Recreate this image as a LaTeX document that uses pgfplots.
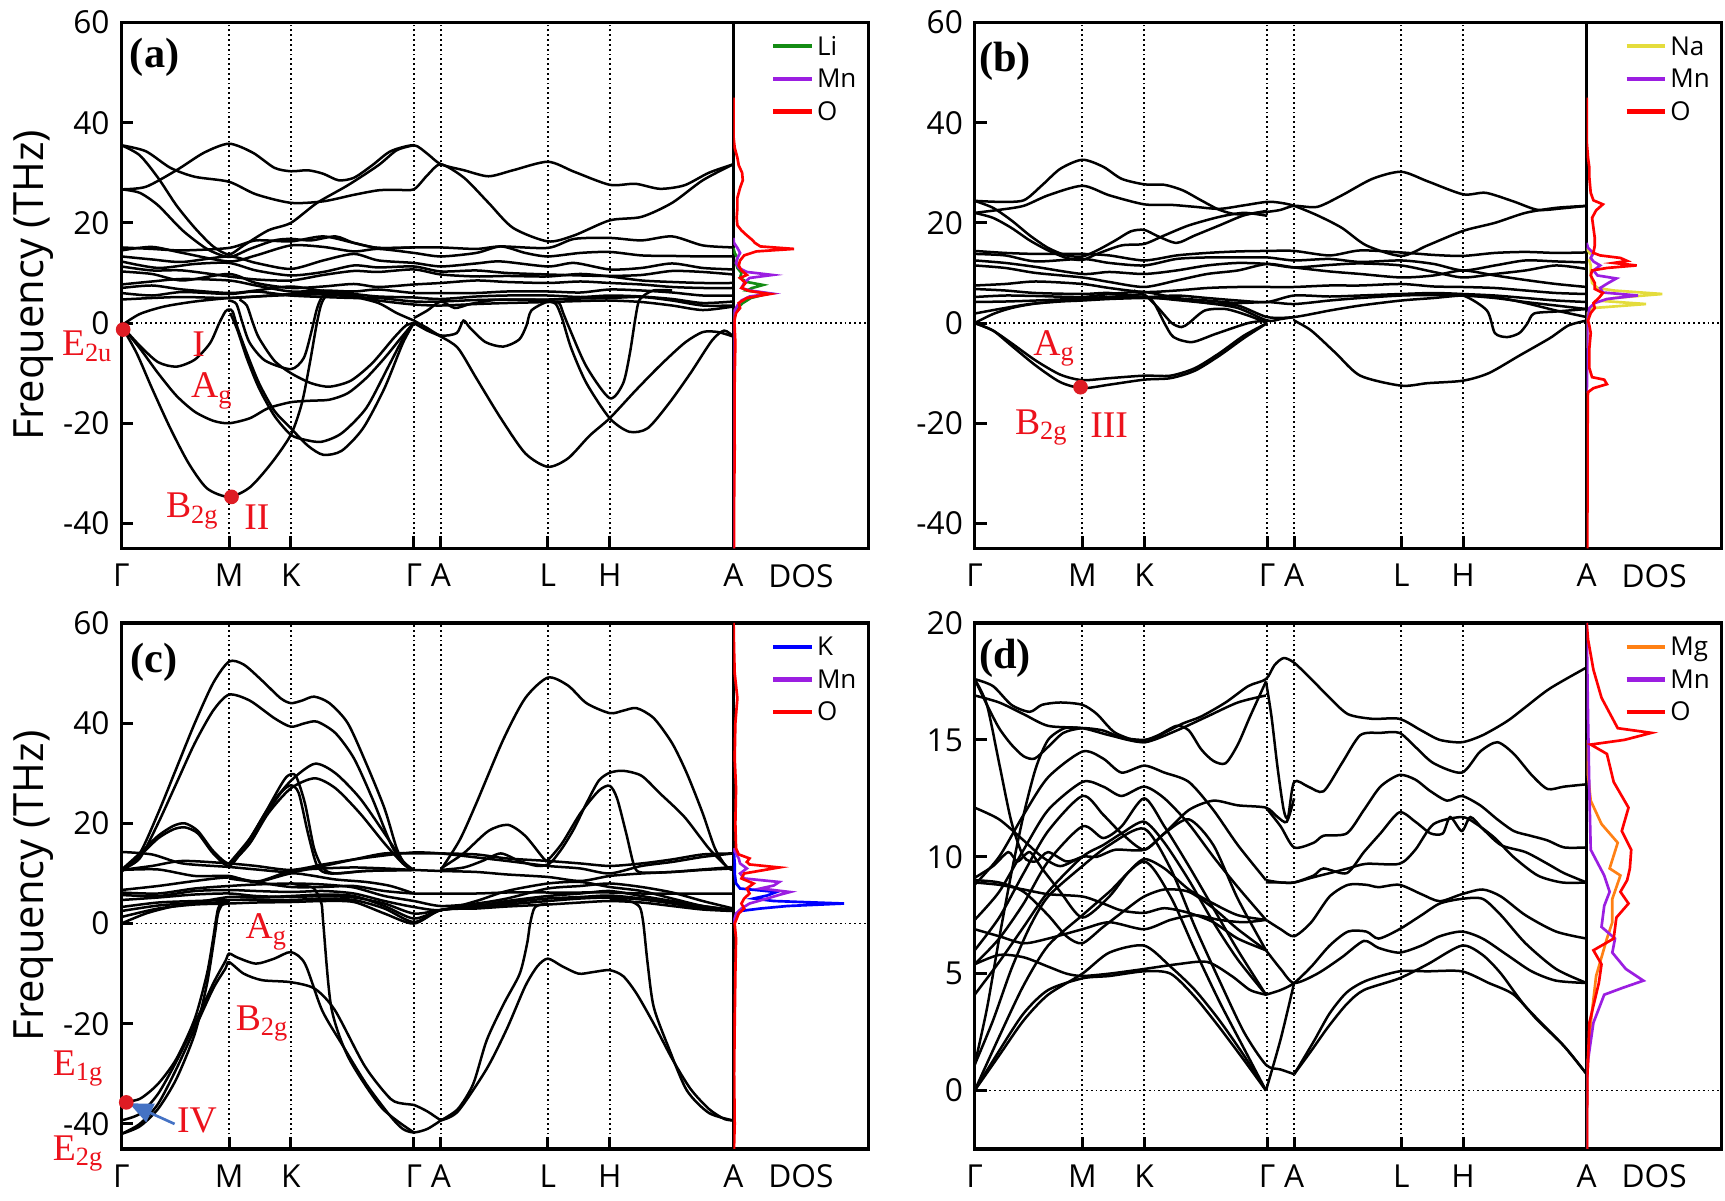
\documentclass[border=0pt]{standalone}
\usepackage{pgfplots}
\pgfplotsset{compat=1.18}
\usepackage{fontspec}
\setmainfont{Open Sans}
\newfontfamily\tnr{Liberation Serif}
\usetikzlibrary{arrows.meta}

\definecolor{liG}{RGB}{20,140,20}
\definecolor{mnP}{RGB}{155,30,225}
\definecolor{oR}{RGB}{255,0,0}
\definecolor{naY}{RGB}{228,220,60}
\definecolor{kB}{RGB}{0,0,255}
\definecolor{mgO}{RGB}{255,128,20}
\definecolor{labR}{RGB}{236,18,28}
\definecolor{dotR}{RGB}{222,28,36}
\definecolor{arrB}{RGB}{68,114,196}

\newcommand{\ml}{\tnr\fontsize{11.3}{13}\selectfont}
\newcommand{\pl}{\tnr\bfseries\fontsize{12.7}{14}\selectfont}

\tikzset{zl/.style={black, line width=0.55pt, dash pattern=on 0.55pt off 0.9pt}}

\pgfplotsset{
  bandax/.style={
    scale only axis, width=183.6pt, height=157.8pt,
    xmin=0, xmax=100, clip=false,
    xtick={0,17.6,27.7,47.8,52.2,69.7,79.8,100},
    xticklabels={Γ,M,K,Γ,A,L,H,A},
    tick align=inside, xtick pos=bottom, ytick pos=left,
    major tick length=3.6pt,
    every tick/.style={black, line width=0.9pt},
    xmajorgrids,
    major grid style={black, line width=0.55pt, dash pattern=on 0.55pt off 0.9pt},
    axis line style={line width=1pt},
    tick label style={font=\fontsize{9.5}{10}\selectfont},
    xticklabel style={yshift=-1.2pt},
  },
  dosax/.style={
    scale only axis, width=40.5pt, height=157.8pt,
    xmin=0, xmax=1, xtick=\empty, ytick=\empty,
    axis line style={line width=1pt},
    xlabel={DOS},
    xlabel style={at={(axis description cs:0.5,0)}, anchor=north, yshift=-1.2pt,
      font=\fontsize{9.5}{10}\selectfont},
    legend cell align=left,
    legend style={at={(axis description cs:0.2,0.995)}, anchor=north west,
      draw=none, fill=none, font=\fontsize{7.8}{9}\selectfont, row sep=1.5pt,
      nodes={inner sep=1pt, text height=5.8pt, text depth=0.5pt}},
    legend image code/.code={\draw[#1, line width=1.3pt] (0pt,0pt) -- (11.5pt,0pt);},
  },
  freqlabel/.style={ylabel={Frequency (THz)},
    ylabel style={at={(axis description cs:-0.144,0.5)}, anchor=center, inner sep=0pt,
      font=\fontsize{12.5}{13}\selectfont}},
  bd/.style={black, line width=0.75pt, smooth, tension=0.45, no markers},
  ds/.style={line width=0.8pt, no markers},
}

\begin{document}
\begin{tikzpicture}
\path[use as bounding box] (0,0) rectangle (517.5pt,-360.3pt);

% ===================== (a) LiMnO2 =====================
\begin{axis}[bandax, freqlabel, at={(36.4pt,-6.75pt)}, anchor=north west,
  ymin=-45, ymax=60, ytick={-40,-20,0,20,40,60}, yticklabels={-40,-20,0,20,40,60}]
\draw[zl] (axis cs:0,0) -- (axis cs:100,0);
% upper optical branches
\addplot[bd] coordinates {(0,26.7)(4,27.2)(9,30.5)(13.5,34)(17.6,35.8)(21.5,34)(25,31)(27.7,30.3)(30.5,30.5)(33,29.8)(35.5,28.5)(38,29)(41,31.5)(44,34.3)(47.8,35.5)(50,33.8)(52.2,31.7)(56,30.5)(60,29.3)(64,30.5)(69.7,32.2)(74,30.2)(79.8,27.6)(84,27.8)(88,26.8)(92,27.5)(96,30)(100,31.7)};
\addplot[bd] coordinates {(0,35.5)(4,34.3)(8,31)(12,29.2)(17.6,28.2)(22,25.7)(27.7,24)(33,24.3)(38,25.6)(42,26.5)(45,26.6)(47.8,26.7)(50,29.5)(52.2,31.7)(56,29)(60,24)(64,19)(69.7,16.3)(74,17.5)(79.8,20.5)(85,21.2)(90,24)(95,28.5)(100,31.7)};
\addplot[bd] coordinates {(0,35.5)(3,33.5)(6,29)(9,23.5)(12,19)(15,15.3)(17.6,13.7)(20,15.5)(24,18.5)(27.7,20)(32,24)(37,27.5)(42,31.5)(45,34.5)(47.8,35.5)};
\addplot[bd] coordinates {(0,26.7)(3,26)(6,23.5)(10,18.5)(14,14.8)(17.6,13.2)(21,14.8)(25,16.5)(27.7,16.8)(31,16.5)(35,17.3)(38,16)(42,15)(47.8,15.1)};
% middle manifold
\addplot[bd] coordinates {(0,15.1)(5,14.8)(10,14.5)(17.6,15)(22,16.5)(27.7,16.3)(33,17.3)(38,16)(42,15)(47.8,15.1)(52.2,15.1)(58,14.8)(62,15.3)(69.7,15)(74,16.8)(79.8,17)(85,16.5)(90,17.3)(95,15.5)(100,15.1)};
\addplot[bd] coordinates {(0,14.5)(5,15.2)(10,14)(17.6,12.3)(22,13.5)(27.7,15.5)(33,15.2)(38,14.3)(42,14.8)(47.8,14)(52.2,13.3)(58,14)(62,15.3)(66,14)(69.7,13.3)(75,14)(79.8,14.2)(85,13.5)(90,13.4)(95,13.3)(100,13.3)};
\addplot[bd] coordinates {(0,13.3)(5,12.7)(10,12.2)(17.6,13.3)(22,12)(27.7,10.8)(33,12.5)(38,13.8)(42,12.5)(47.8,12)(52.2,11.3)(58,11.9)(62,12.3)(69.7,11.3)(74,12)(79.8,10.7)(85,11)(90,11.9)(95,11)(100,10.7)};
\addplot[bd] coordinates {(0,12.3)(6,11)(12,11.8)(17.6,12)(22,10.5)(27.7,9.5)(33,10.2)(38,11.5)(42,11.1)(47.8,11.3)(52.2,10.3)(58,10.5)(63,10)(69.7,9.7)(75,9.5)(79.8,9.4)(85,9.6)(90,10.4)(95,10.2)(100,9.7)};
\addplot[bd] coordinates {(0,11.3)(5,10.5)(10,10.5)(17.6,9.3)(22,8.7)(27.7,8.5)(33,9.6)(38,10.4)(42,10.2)(47.8,10.7)(52.2,9.7)(58,9.3)(63,9.4)(69.7,9.3)(75,9.8)(79.8,9.3)(85,8.5)(90,8.2)(95,8)(100,8)};
\addplot[bd] coordinates {(0,10.3)(5,9.8)(10,8.5)(17.6,9.8)(22,8)(27.7,7)(33,7.3)(38,7.8)(42,7.2)(47.8,7.7)(52.2,8)(58,8.5)(63,8.2)(69.7,8)(75,8.3)(79.8,8)(85,7.7)(90,7.2)(95,7)(100,7)};
\addplot[bd] coordinates {(0,7.7)(5,8.3)(10,8.8)(17.6,8.5)(22,7.5)(27.7,6.3)(33,6.5)(38,6.3)(42,6.7)(47.8,6)(52.2,6)(58,6)(63,6.3)(69.7,6.3)(75,6.1)(79.8,6.7)(85,6.5)(90,6.1)(95,5.5)(100,5.5)};
\addplot[bd] coordinates {(0,7)(5,7.5)(10,6.7)(17.6,6)(22,6.5)(27.7,7.3)(33,6.4)(38,5.8)(42,5.3)(47.8,5.1)(52.2,4.8)(58,5.3)(63,5.5)(69.7,5.5)(75,5.2)(79.8,5.5)(85,5.3)(90,4.8)(95,4)(100,4.3)};
\addplot[bd] coordinates {(0,6)(5,5.5)(10,6.2)(17.6,5.8)(22,6.3)(27.7,5.5)(33,5.2)(38,5)(42,5)(47.8,4.3)(52.2,4.3)(58,4.6)(63,4.7)(69.7,4.7)(75,4.9)(79.8,5)(85,5.2)(90,4.5)(95,3.5)(100,3.5)};
\addplot[bd] coordinates {(0,4.7)(5,5)(10,5.2)(17.6,5)(22,5.3)(27.7,5.8)(33,6)(38,5.5)(42,4.5)(47.8,3.7)(52.2,3.5)(58,3.8)(63,4)(69.7,4.2)(75,4.4)(79.8,4.5)(85,4.2)(90,3.5)(95,2.6)(100,3.3)};
\addplot[bd] coordinates {(0,-0.5)(3,1.8)(7,3.3)(12,4.3)(17.6,5)(22,5.3)(27.7,5.6)(33,5.7)(38,5.2)(42,4)(45,2)(47.8,0.5)};
% soft modes
\addplot[bd] coordinates {(0,-0.5)(3,-4.5)(6,-7.8)(9,-8.7)(12,-7.3)(14.5,-4)(16,0)(17,2.3)(17.6,2.7)(18.2,2.3)(19,-1)(20.5,-6)(22.5,-12)(25,-17.5)(27.7,-21)(30.5,-24.5)(33,-26.3)(36,-25.5)(39.5,-21)(43,-13)(46,-4)(47.8,0)};
\addplot[bd] coordinates {(17.8,2)(19,-1.5)(20.5,-7)(22.5,-13)(25,-18.5)(27.7,-22.3)(30,-23.3)(32.7,-23.7)(36,-22)(40,-17)(43.5,-9)(46.5,-2)(47.8,0)};
\addplot[bd] coordinates {(0,-0.5)(3,-5)(6,-10)(9,-14.5)(12,-17.7)(15,-19.5)(17.6,-20)(21,-19)(24,-17)(27.7,-15.8)(31,-15.5)(34,-15.3)(37,-14)(40,-11)(43,-7)(46,-2.5)(47.8,0)};
\addplot[bd] coordinates {(0,-0.5)(2.5,-6)(5,-13)(8,-21)(11,-28)(14,-33)(17.6,-34.7)(21,-32.8)(24.5,-28)(27.7,-22.3)(29.5,-16)(30.8,-8)(31.8,-1)(32.6,3.5)(33.5,5.5)(35,6)(38,6.3)};
\addplot[bd] coordinates {(17.6,4.5)(18.8,3.8)(19.8,0)(21,-4)(23.5,-7.5)(27.7,-9.2)(29.8,-7)(31,-2)(32,3)(33,5.5)(35,5.8)};
\addplot[bd] coordinates {(19.3,4.7)(20.5,3.5)(21.5,0)(22.5,-3)(25,-7.5)(27.7,-10)(31,-12)(34,-12.7)(37.5,-11.5)(41,-8)(44.5,-3)(46.5,-0.5)(47.8,0)};
\addplot[bd] coordinates {(47.8,0)(50,-1.5)(52.2,-2.7)(55,-5)(58,-11)(62,-19)(66,-26)(69.7,-28.7)(73,-27)(76.5,-22.5)(79.8,-19)(84,-13.5)(88,-8.5)(92,-4)(95,-1.8)(97.5,-1.8)(100,-2.7)};
\addplot[bd] coordinates {(47.8,0.5)(50,-1)(52.2,-2.5)(54.8,-2)(55.9,0.5)(57,-1)(59.5,-3.8)(62.4,-4.7)(65,-3.3)(66.2,-0.5)(67,2.5)(69.7,4.3)(71.5,4)(72.2,2)(73.2,-1)(76,-8.7)(79.8,-15)(82,-12)(83.1,-6)(84,1)(84.7,4.7)(86.9,6.5)(90,6.5)};
\addplot[bd] coordinates {(69.7,4.3)(71,3.8)(72,1)(73.5,-5)(76,-12)(79.8,-19)(83,-21.7)(86,-21)(89.5,-16)(93,-10)(96.5,-3.5)(98.5,-1.5)(100,-2.7)};
\addplot[bd] coordinates {(47.8,1)(50,2.5)(52.2,4.3)(54.5,3)(57,3.8)(61,4.6)(65,4.7)(69.7,4.6)};
% marked modes
\addplot[only marks, mark=*, mark size=2pt, color=dotR] coordinates {(0.3,-1.3)(18,-34.7)};
\node[anchor=base west, text=labR, font=\ml, inner sep=0pt] at (axis cs:-9.8,-6.5) {E\textsubscript{2u}};
\node[anchor=base west, text=labR, font=\ml, inner sep=0pt] at (axis cs:11.5,-6.7) {I};
\node[anchor=base west, text=labR, font=\ml, inner sep=0pt] at (axis cs:11.3,-14.9) {A\textsubscript{g}};
\node[anchor=base west, text=labR, font=\ml, inner sep=0pt] at (axis cs:7.2,-38.9) {B\textsubscript{2g}};
\node[anchor=base west, text=labR, font=\ml, inner sep=0pt] at (axis cs:20,-41.3) {II};
\node[anchor=west, font=\pl, inner sep=0pt] at (axis cs:1.3,53.1) {(a)};
\end{axis}
\begin{axis}[dosax, at={(220.0pt,-6.75pt)}, anchor=north west, ymin=-45, ymax=60]
\draw[zl] (axis cs:0,0) -- (axis cs:1,0);
\addplot[ds, liG] coordinates {(0,0)(0.01,2)(0.03,3)(0.07,4)(0.13,5)(0.26,5.9)(0.1,6.5)(0.14,7)(0.22,7.6)(0.1,8.2)(0.05,9)(0.06,10)(0.03,11)(0.02,12)(0.03,13)(0.01,14)(0,15)};
\addlegendentry{Li}
\addplot[ds, mnP] coordinates {(0,-45)(0.003,-10)(0.005,0)(0.01,2.5)(0.03,3.5)(0.06,4.5)(0.12,5.3)(0.28,5.9)(0.12,6.5)(0.06,7)(0.08,8)(0.12,9)(0.29,9.6)(0.1,10.2)(0.04,11)(0.02,12)(0.03,13)(0.05,14)(0.03,15)(0.005,16)(0,17)};
\addlegendentry{Mn}
\addplot[ds, oR] coordinates {(0.005,-45)(0.006,-35)(0.01,-25)(0.008,-15)(0.012,-8)(0.015,-4)(0.01,-1)(0.008,0.5)(0.02,2)(0.05,3)(0.04,4)(0.1,5)(0.27,5.8)(0.12,6.4)(0.06,7)(0.09,8)(0.05,9)(0.1,9.6)(0.06,10.5)(0.04,11.5)(0.05,12.5)(0.08,13.5)(0.17,14.3)(0.45,14.8)(0.2,15.3)(0.16,16)(0.14,16.6)(0.1,17.5)(0.06,18.5)(0.03,19.5)(0.025,21)(0.03,23)(0.03,25)(0.05,27)(0.07,28.5)(0.065,30)(0.04,31.5)(0.03,33)(0.01,35)(0.002,37)(0.001,45)};
\addlegendentry{O}
\end{axis}

% ===================== (b) NaMnO2 =====================
\begin{axis}[bandax, at={(292.4pt,-6.75pt)}, anchor=north west,
  ymin=-45, ymax=60, ytick={-40,-20,0,20,40,60}, yticklabels={-40,-20,0,20,40,60}]
\draw[zl] (axis cs:0,0) -- (axis cs:100,0);
\addplot[bd] coordinates {(0,24.4)(4,24.2)(8,24.5)(11,27.5)(14,30.8)(17.6,32.6)(21,31.2)(24,28.8)(27.7,27.7)(31,27.6)(34,26.5)(37,24.5)(40,22.6)(43,21.7)(47.8,22.2)(50,22.6)(52.2,23.4)(56,23.2)(60,25.5)(65,28.8)(69.7,30.2)(74,28.3)(79.8,25.7)(83.5,26)(88,24.3)(92,22.6)(96,22.9)(100,23.4)};
\addplot[bd] coordinates {(0,22)(4,22.6)(8,23.4)(12,25.5)(17.6,27.4)(22,25.5)(27.7,23.7)(32,23.6)(36,23.2)(40,22.8)(44,23.5)(47.8,24.2)(50,24)(52.2,23.4)(56,21.5)(60,19)(64,15.5)(69.7,13.4)(74,15.5)(79.8,18.4)(85,20)(90,22)(95,23)(100,23.4)};
\addplot[bd] coordinates {(0,24.4)(3,23)(6,20.5)(9,17.5)(12,15)(15,13.5)(17.6,13.3)(20,14.5)(23,16.5)(25.5,18.3)(27.7,18.6)(30,17.3)(33,16)(36,17.5)(40,19.5)(44,21.5)(47.8,22.4)};
\addplot[bd] coordinates {(0,22)(3,21)(6,19)(9,16.5)(12,14.5)(15,13)(17.6,12.6)(20,13.8)(24,15.5)(27.7,15.8)(31,17.5)(35,19.5)(40,21.2)(44,22)(47.8,21.4)};
\addplot[bd] coordinates {(0,14.4)(5,14)(10,13.8)(17.6,13.8)(22,13.5)(27.7,12.5)(33,13.5)(38,14)(43,14.3)(47.8,14.4)(52.2,14.4)(58,13.5)(63,14.5)(69.7,14.1)(75,13.6)(79.8,13.4)(85,14)(90,14.2)(95,14)(100,14.1)};
\addplot[bd] coordinates {(0,13.8)(5,13.5)(10,12.3)(17.6,12.8)(22,12)(27.7,11.5)(33,12.8)(38,13.1)(43,13.1)(47.8,13.1)(52.2,12.5)(58,12.8)(63,12.2)(69.7,12.5)(75,11.8)(79.8,10.5)(85,11.5)(90,12.5)(95,12.3)(100,12.1)};
\addplot[bd] coordinates {(0,12.5)(5,12)(10,11.2)(17.6,9.8)(22,10.2)(27.7,9.8)(33,10.5)(38,11.5)(43,12)(47.8,11.8)(52.2,11.1)(58,11.6)(63,11.9)(69.7,11.5)(75,10.2)(79.8,9.1)(85,9.8)(90,10.5)(95,11.5)(100,10.8)};
\addplot[bd] coordinates {(0,11.5)(5,11)(10,10)(17.6,9.1)(22,8.2)(27.7,7.2)(33,8.5)(38,9.8)(43,10.5)(47.8,11.8)(52.2,11.1)(58,10.3)(63,9.8)(69.7,9.1)(75,9.5)(79.8,10.5)(85,9.5)(90,8.6)(95,7.8)(100,7.2)};
\addplot[bd] coordinates {(0,7.5)(5,7.8)(10,8.3)(17.6,7.8)(22,7)(27.7,6.2)(33,6.5)(38,7)(43,7.2)(47.8,7.2)(52.2,7.2)(58,7.5)(63,7.5)(69.7,7.8)(75,7.3)(79.8,7.2)(85,7)(90,6.5)(95,6)(100,5.8)};
\addplot[bd] coordinates {(0,6.8)(5,6.5)(10,6)(17.6,5.8)(22,6)(27.7,5.2)(33,5.5)(38,5)(43,4.5)(47.8,4.2)(52.2,5.5)(58,5.3)(63,5.5)(69.7,5.8)(75,6)(79.8,5.8)(85,5.5)(90,5)(95,4.5)(100,4.2)};
\addplot[bd] coordinates {(0,5.2)(5,5.5)(10,5.4)(17.6,5.2)(22,5.8)(27.7,6.2)(33,5)(38,4.5)(43,4)(47.8,4.2)(52.2,3.8)(58,4.5)(63,5)(69.7,5.5)(75,5.6)(79.8,5.5)(85,5)(90,4.2)(95,3.5)(100,2.8)};
\addplot[bd] coordinates {(0,4.2)(5,4.3)(10,4.5)(17.6,4.9)(22,5.2)(27.7,5.2)(33,4.6)(38,4)(43,3.5)(47.8,1.2)(52.2,1.2)(58,2.5)(63,3.5)(69.7,4.5)(75,5)(79.8,5.5)(85,5.2)(90,4)(95,2.5)(100,1.2)};
\addplot[bd] coordinates {(0,0)(3,1.8)(6,3)(10,3.9)(17.6,4.8)(22,5.2)(27.7,5.8)};
\addplot[bd] coordinates {(0,1.9)(4,2.8)(9,3.8)(14,4.3)(17.6,4.5)(22,4.8)(27.7,5)(33,4.8)(38,4)(43,3)(47.8,0.5)(50,0.8)(52.2,1.2)};
\addplot[bd] coordinates {(0,0)(3,-1.5)(6,-4)(10,-7.5)(14,-10.3)(17.6,-11.4)(22,-11)(27.7,-10.5)(32,-10.5)(36,-9)(40,-6)(44,-2.5)(47.8,0)};
\addplot[bd] coordinates {(0,0)(3,-1.5)(6,-4.5)(10,-8.5)(14,-11.8)(17.6,-13)(22,-12.3)(27.7,-11.3)(32,-11)(36,-9.5)(40,-6.5)(44,-3)(47.8,0)};
\addplot[bd] coordinates {(52.2,0.5)(55,-1.5)(59,-6)(63,-10.5)(69.7,-12.5)(74,-12)(79.8,-11.5)(84,-10)(89,-6.5)(94,-3)(97,-0.5)(100,0.5)};
\addplot[bd] coordinates {(27.7,5.8)(30,3)(32.2,0)(33.8,-0.8)(35,0)(37.6,2.5)(41,2.8)(44.7,1.5)(47.8,0)};
\addplot[bd] coordinates {(26,6.5)(29,4.5)(31,0)(32.5,-2.8)(35.5,-3.8)(39.3,-2.2)(44.7,0)(47.8,0.5)};
\addplot[bd] coordinates {(75,5.8)(79.8,5.5)(83.7,2.5)(85,-2)(87,-2.8)(89,-2)(90.3,-0.1)(91.4,1.9)(95,2.3)(100,2.8)};
\addplot[only marks, mark=*, mark size=2pt, color=dotR] coordinates {(17.3,-12.8)};
\node[anchor=base west, text=labR, font=\ml, inner sep=0pt] at (axis cs:9.5,-6.4) {A\textsubscript{g}};
\node[anchor=base west, text=labR, font=\ml, inner sep=0pt] at (axis cs:6.5,-22.2) {B\textsubscript{2g}};
\node[anchor=base west, text=labR, font=\ml, inner sep=0pt] at (axis cs:18.8,-22.9) {III};
\node[anchor=west, font=\pl, inner sep=0pt] at (axis cs:0.65,52.3) {(b)};
\end{axis}
\begin{axis}[dosax, at={(476.0pt,-6.75pt)}, anchor=north west, ymin=-45, ymax=60]
\draw[zl] (axis cs:0,0) -- (axis cs:1,0);
\addplot[ds, naY] coordinates {(0,-5)(0.005,0)(0.01,2)(0.05,3)(0.44,3.8)(0.12,4.4)(0.2,5)(0.56,5.8)(0.2,6.5)(0.08,7)(0.04,8)(0.03,10)(0.03,11.5)(0.02,12.5)(0.04,13.5)(0.02,14)(0,15)};
\addlegendentry{Na}
\addplot[ds, mnP] coordinates {(0,-14)(0.003,-12)(0.004,-5)(0.005,0)(0.02,3)(0.06,4)(0.15,4.8)(0.38,5.5)(0.12,6.1)(0.1,7)(0.16,8)(0.22,8.9)(0.08,9.5)(0.05,10.5)(0.1,11.5)(0.05,12.3)(0.03,13)(0.05,14)(0.01,15)(0,16)};
\addlegendentry{Mn}
\addplot[ds, oR] coordinates {(0.005,-45)(0.006,-30)(0.008,-15)(0.01,-13.8)(0.05,-13)(0.15,-12.2)(0.13,-11.3)(0.04,-10.8)(0.02,-9)(0.02,-5)(0.03,-2)(0.02,-0.5)(0.01,0.5)(0.03,2)(0.06,3)(0.05,4)(0.09,5)(0.12,6)(0.06,6.8)(0.06,8)(0.03,9.5)(0.04,10.5)(0.15,11)(0.37,11.5)(0.2,12)(0.3,12.4)(0.25,13)(0.1,13.5)(0.05,14)(0.06,15.5)(0.06,17)(0.05,19)(0.04,21)(0.07,22.5)(0.12,23.7)(0.05,24.5)(0.03,26)(0.02,29)(0.02,31)(0.01,33)(0.001,36)(0.001,45)};
\addlegendentry{O}
\end{axis}

% ===================== (c) KMnO2 =====================
\begin{axis}[bandax, freqlabel, at={(36.4pt,-186.9pt)}, anchor=north west,
  ymin=-45, ymax=60, ytick={-40,-20,0,20,40,60}, yticklabels={-40,-20,0,20,40,60}]
\draw[zl] (axis cs:0,0) -- (axis cs:100,0);
\addplot[bd] coordinates {(0,10.7)(3,14)(6,22)(9,31)(12,40)(15,48)(17.6,52.3)(20,51.7)(23,48.5)(26,45)(27.7,44)(29.5,44.5)(31.5,45.3)(34,44)(37,40)(40,32)(43,23)(45,15)(46.5,11.5)(47.8,10.7)};
\addplot[bd] coordinates {(0,10.7)(3,13)(6,20)(9,28)(12,36)(15,42.5)(17.6,45.7)(21,44.5)(25,41)(27.7,39.3)(30,40)(32,40.3)(35,38)(38,33)(41,25)(44,16)(46,12)(47.8,10.7)};
\addplot[bd] coordinates {(52.2,10.7)(55.3,16.7)(58,24)(62.4,36.7)(66,45)(69.7,49.1)(73,47.5)(76,44)(79.8,42)(82,42.5)(84.2,43)(87,41)(90,36)(92.4,30)(95,22)(97,15)(98.9,11.3)(100,10.7)};
\addplot[bd] coordinates {(52.2,10.7)(56,11.2)(59,12.5)(62,14)(65,12.5)(68,11.5)(70,12)(72,15)(74,19)(76,24)(78,28.5)(79.8,30.1)(82,30.5)(85,29.5)(88,26)(92,21.3)(96,15)(99,11.3)(100,10.7)};
\addplot[bd] coordinates {(52.2,11)(55.9,14)(60,18.5)(63.2,19.7)(66,17.5)(69,13)(69.7,12.7)(72,16)(75,22)(78,26.5)(79.8,27.5)(81,25)(82.5,18)(83.8,11.5)(85,10.2)(90,10.3)(95,10.7)(100,11)};
\addplot[bd] coordinates {(0,10.7)(3,14)(6,17.5)(8.5,19.5)(10.4,20)(12.5,18.5)(15,14.5)(17.6,12)(20,15)(23,21)(26,27.5)(27.2,29.5)(28.5,29.5)(30,24)(31.5,15)(33,11)(35,10)(40,10.5)(47.8,10.7)};
\addplot[bd] coordinates {(0,10.3)(3,13.5)(6,17)(8.5,18.8)(10.4,19.2)(12.5,18)(15,14)(17.6,11.5)(20,15)(23,20.5)(26,26)(27.7,27.6)(29,26)(30.5,18)(32,11.5)(34,10)(40,10.5)(47.8,10.7)};
\addplot[bd] coordinates {(17.6,12)(21,17)(24,23)(27.7,28.5)(31.6,31.9)(35,30)(39,25)(43,18)(46,12.5)(47.8,10.7)};
\addplot[bd] coordinates {(17.6,11.5)(21,16)(24,22)(27.7,27)(31.6,29)(35,27)(39,22)(43,16)(46,12)(47.8,10.7)};
\addplot[bd] coordinates {(0,14.3)(5,13.8)(10,12)(17.6,11.3)(22,10.8)(27.7,10.3)(33,11.5)(38,12.8)(43,14)(47.8,14)(52.2,14)(58,13.8)(63,13)(69.7,12.5)(75,12)(79.8,11.5)(85,12)(90,12.8)(95,13.8)(100,14)};
\addplot[bd] coordinates {(0,10.7)(5,11.5)(10,12.5)(17.6,12)(22,11.5)(27.7,10.7)(33,11.8)(38,12.8)(43,13.6)(47.8,14.2)(52.2,14)(58,13.2)(63,12.5)(69.7,11.5)(75,11)(79.8,10)(85,11.5)(90,12.3)(95,13.3)(100,14)};
\addplot[bd] coordinates {(0,10.7)(6,10.8)(12,9.5)(17.6,9.5)(22,8.3)(27.7,10.5)(33,11)(38,11.2)(43,11)(47.8,10.7)(52.2,10.5)(58,10.3)(63,9.8)(69.7,9.3)(75,8.5)(79.8,9.5)(85,10)(90,10.3)(95,10.8)(100,11.3)};
\addplot[bd] coordinates {(0,6.7)(6,7.5)(12,8.5)(17.6,9.2)(22,8.3)(27.7,7.3)(33,7.3)(38,7.5)(43,6.5)(47.8,6)(52.2,6)(58,6)(63,6.2)(69.7,6.2)(75,6.2)(79.8,6.2)(85,6)(90,6)(95,6)(100,6)};
\addplot[bd] coordinates {(0,6.2)(6,6)(12,7)(17.6,7.5)(22,7.8)(27.7,8)(33,7.8)(38,7.2)(43,5.5)(47.8,4.5)(52.2,3.5)(58,4)(63,5)(69.7,7)(75,7.5)(79.8,8)(85,7.3)(90,6.2)(95,4.5)(100,3)};
\addplot[bd] coordinates {(0,5.7)(6,5.5)(12,6.5)(17.6,6.7)(22,6.5)(27.7,6.3)(33,6.5)(38,6)(43,4.5)(47.8,3.3)(52.2,2.7)(58,4.5)(63,6.5)(69.7,8)(75,8.3)(79.8,7.3)(85,6.5)(90,5)(95,3.5)(100,2.7)};
\addplot[bd] coordinates {(0,4.7)(6,5.2)(12,5.8)(17.6,6)(22,5.5)(27.7,5.3)(33,5.5)(38,5.2)(43,4)(47.8,2)(52.2,2.7)(58,3.5)(63,4.5)(69.7,5.5)(75,6)(79.8,6.5)(85,5.5)(90,4.5)(95,3.5)(100,2.7)};
\addplot[bd] coordinates {(0,2.5)(6,3.6)(12,4.2)(17.6,5.3)(22,5.2)(27.7,5.5)(33,5.8)(38,5.5)(43,3.5)(47.8,1)(52.2,2.7)(58,3.6)(63,4.2)(69.7,5)(75,5.3)(79.8,5.6)(85,5)(90,4.2)(95,3.2)(100,2.7)};
\addplot[bd] coordinates {(0,3.3)(6,4.2)(12,4.5)(17.6,4.7)(22,4.8)(27.7,4.7)(33,5)(38,4.7)(43,3)(47.8,0.3)(52.2,2.7)(58,3.2)(63,3.8)(69.7,4.5)(75,5)(79.8,5.2)(85,4.8)(90,4)(95,3)(100,2.7)};
\addplot[bd] coordinates {(0,1.3)(6,3)(12,3.8)(17.6,4)(22,4.2)(27.7,4.3)(33,4.5)(38,4.3)(43,2)(47.8,0)(52.2,2.7)(58,3)(63,3.4)(69.7,3.8)(75,4.2)(79.8,4.5)(85,4.2)(90,3.5)(95,2.8)(100,2.5)};
\addplot[bd] coordinates {(0,0)(4,2)(8,3.3)(12,4)(17.6,4.3)};
\addplot[bd] coordinates {(17.6,9)(20,8.6)(23,8.5)(27.7,10)(31,9.6)(35,8.8)(40,8.3)(44,7.5)(47.8,6)};
% unstable branches
\addplot[bd] coordinates {(0,-42)(3,-40.5)(6,-37)(9,-31)(12,-22)(14,-12)(15.3,-2)(15.8,2)(16.5,3.8)(17.6,4.2)};
\addplot[bd] coordinates {(0,-35.7)(3,-35)(6,-32)(9,-27)(12,-19)(14,-10)(15,-3)(15.5,1)(16,3.5)(17.6,4)};
\addplot[bd] coordinates {(0,-39.3)(3,-38)(6,-34)(9,-27.5)(12,-20)(15,-12)(17,-7.5)(17.6,-6)(19,-6.8)(22,-8)(25,-7)(27.7,-5.7)(30,-8)(32.8,-17.3)(36,-24)(40,-32)(44,-38.5)(46,-41)(47.8,-41.7)(50,-41)(52.2,-39.3)};
\addplot[bd] coordinates {(0,-42)(3,-40)(6,-36)(9,-29)(12,-21)(15,-13)(17,-9)(17.6,-7.7)(20,-10)(23,-11.3)(27.7,-11.7)(31.6,-13)(34.9,-17.3)(39.8,-28.5)(44,-35)(46.3,-36)(47.8,-36.2)(50,-37.5)(52.2,-39.3)};
\addplot[bd] coordinates {(27.7,8)(30,7.5)(31.5,7)(32.7,4)(33,0)(34.3,-16.7)(37.1,-26.7)(42.5,-36.7)(47.8,-41.7)};
\addplot[bd] coordinates {(52.2,-39.3)(55,-37)(57.5,-32)(59.7,-23.3)(62.5,-16)(65.1,-10)(66.3,-4)(66.8,0)(67.6,3.3)(69.7,4)};
\addplot[bd] coordinates {(52.2,-39.3)(55,-37.5)(59.7,-29)(63,-21)(66,-12.5)(68,-8.5)(69.7,-7)(72,-8.5)(74.7,-10)(77,-9.7)(79.8,-9.3)(82,-10.5)(84.2,-14)(87,-20)(90,-27)(93,-33)(96,-37)(98.5,-39)(100,-39.3)};
\addplot[bd] coordinates {(79.8,5)(83,4.5)(84.7,3.3)(85.3,0)(86,-8)(87,-16.7)(89.5,-25)(92.4,-33.3)(96,-37.8)(100,-39.3)};
\addplot[only marks, mark=*, mark size=2pt, color=dotR] coordinates {(0.8,-35.7)};
\draw[arrB, line width=0.8pt, -{Triangle[length=7pt,width=6pt]}] (axis cs:8.7,-40) -- (axis cs:1.3,-35.9);
\node[anchor=base west, text=labR, font=\ml, inner sep=0pt] at (axis cs:20.2,-3.0) {A\textsubscript{g}};
\node[anchor=base west, text=labR, font=\ml, inner sep=0pt] at (axis cs:18.6,-21.3) {B\textsubscript{2g}};
\node[anchor=base west, text=labR, font=\ml, inner sep=0pt] at (axis cs:-11.3,-30.3) {E\textsubscript{1g}};
\node[anchor=base west, text=labR, font=\ml, inner sep=0pt] at (axis cs:-11.3,-47.3) {E\textsubscript{2g}};
\node[anchor=base west, text=labR, font=\ml, inner sep=0pt] at (axis cs:9,-41.7) {IV};
\node[anchor=west, font=\pl, inner sep=0pt] at (axis cs:1.35,52.2) {(c)};
\end{axis}
\begin{axis}[dosax, at={(220.0pt,-186.9pt)}, anchor=north west, ymin=-45, ymax=60]
\draw[zl] (axis cs:0,0) -- (axis cs:1,0);
\addplot[ds, kB] coordinates {(0,0)(0.02,1.5)(0.05,2.5)(0.2,3)(0.4,3.5)(0.82,4)(0.3,4.5)(0.15,5)(0.25,5.6)(0.32,6.3)(0.05,7)(0.02,8)(0.01,10)(0.01,12)(0.005,14)(0,15)};
\addlegendentry{K}
\addplot[ds, mnP] coordinates {(0,0)(0.02,2)(0.06,3)(0.12,4)(0.25,5)(0.35,5.8)(0.42,6.3)(0.2,7)(0.3,7.6)(0.34,8.3)(0.08,9)(0.05,10)(0.1,11)(0.05,12)(0.04,13)(0.02,14)(0,15)};
\addlegendentry{Mn}
\addplot[ds, oR] coordinates {(0.005,-45)(0.01,-40)(0.006,-30)(0.01,-20)(0.015,-10)(0.02,-3)(0.01,0)(0.04,2)(0.08,3)(0.06,4)(0.08,5)(0.12,6)(0.1,7)(0.15,8)(0.06,9)(0.08,10)(0.34,11.2)(0.12,11.8)(0.1,12.3)(0.12,13)(0.04,13.8)(0.02,15)(0.015,20)(0.02,27)(0.01,33)(0.015,40)(0.03,45)(0.01,50)(0.005,55)(0.002,60)};
\addlegendentry{O}
\end{axis}

% ===================== (d) MgMnO2 =====================
\begin{axis}[bandax, at={(292.4pt,-186.9pt)}, anchor=north west,
  ymin=-2.5, ymax=20, ytick={0,5,10,15,20}, yticklabels={0,5,10,15,20}]
\draw[zl] (axis cs:0,0) -- (axis cs:100,0);
\addplot[bd] coordinates {(0,17.6)(3,17.3)(6,16.5)(9,16.2)(11,16.5)(14,16.6)(17.6,16.5)(20,16.1)(23,15.3)(27.7,14.9)(31,15.3)(34,15.7)(37,16)(41,16.6)(44.7,17.3)(47.6,17.6)(49,18.2)(50.5,18.5)(52.2,18.3)(55,17.6)(58,16.8)(61,16.1)(65,15.9)(69.4,15.9)(73,15.4)(76,15)(79.6,14.9)(83,15.2)(87,15.8)(90,16.4)(94,17.2)(100,18.1)};
\addplot[bd] coordinates {(0,16.9)(4,16.6)(8,16.1)(12,15.6)(17.6,15.5)(22,15.2)(27.7,14.9)(33,15.4)(38,16)(43,16.6)(47.6,16.9)};
\addplot[bd] coordinates {(0,17.6)(2,16.5)(4,15.5)(6,14.8)(8,14.3)(9.8,14.2)(12,14.7)(14.5,15.3)(17.6,15.5)(21,15.4)(24,15.1)(27.7,15)(30,15.2)(33,15.6)(35,15.4)(37,14.6)(39,14.1)(41,14)(43,14.8)(45,16)(47.6,17.5)};
\addplot[bd] coordinates {(47.6,17.5)(48.5,16)(49.5,13.8)(50.5,12)(51.2,11.7)(52.2,13.2)(54.5,13)(57,12.8)(60,14)(63,15.2)(66.3,15.3)(69.4,15.3)(72,14.7)(75,14)(79.6,13.6)(82.6,14.5)(85.4,14.9)(88.1,14.4)(91,13.5)(93.6,12.9)(96.3,13)(100,13.1)};
\addplot[bd] coordinates {(0,12.1)(4,11.6)(8,10.7)(11,10)(14,9.6)(17.6,10)(20,10)(23,10.3)(27.7,10.3)(31,11)(35,12)(39,12.4)(43,12.2)(47.6,12.1)(49.5,11.7)(51,11.5)(52.2,12.5)};
\addplot[bd] coordinates {(0,8.8)(4,10)(8,11.8)(12,13.4)(17.6,14.5)(21,14.2)(24,13.6)(27.7,13.9)(31,13.6)(35,13.2)(39,12)(43,10.5)(47.6,9)};
\addplot[bd] coordinates {(0,7.3)(4,8.5)(8,10.3)(12,12)(17.6,13.2)(21,13)(24,12.6)(27.7,13)(31,12.5)(35,11.4)(39,10)(43,8.7)(47.6,7.3)};
\addplot[bd] coordinates {(0,6)(4,7.4)(8,9.3)(12,11.1)(17.6,12.6)(21,11.8)(24,11)(27.7,10.3)(31,11)(35,11.6)(39,10.5)(43,8.2)(47.6,6)};
\addplot[bd] coordinates {(0,5.4)(4,6.5)(8,8)(12,9.8)(17.6,11.3)(21,10.8)(24,11.3)(27.7,12.5)(31,11.3)(35,9.6)(39,7.8)(43,6)(47.6,4.1)};
\addplot[bd] coordinates {(0,4.1)(4,5.5)(8,7)(12,8.5)(17.6,10)(21,10.5)(24,11)(27.7,11.5)(31,10.6)(35,9)(39,7.2)(43,5.6)(47.6,4.1)};
\addplot[bd] coordinates {(0,9.1)(3,9.6)(5.5,10.2)(7,9.8)(9,10.2)(11,9.5)(14,8.5)(17.6,7.4)(22,8.3)(25,9.3)(27.7,9.9)(31,9.5)(35,8.6)(39,8)(43,7.5)(47.6,7.3)};
\addplot[bd] coordinates {(0,9)(4,8.9)(8,8.5)(12,7.5)(15,6.6)(17.6,6.3)(21,7)(25,7.8)(27.7,8.3)(31,8.6)(35,8.5)(39,7.8)(43,6.9)(47.6,6)};
\addplot[bd] coordinates {(0,8.9)(4,8.8)(8,8.6)(12,8.4)(17.6,8.3)(21,8)(24,7.7)(27.7,7.6)(31,7.8)(35,7.6)(39,7.2)(43,6.5)(47.6,6)};
\addplot[bd] coordinates {(0,6.9)(4,6.6)(8,6.3)(12,6.5)(17.6,6.9)(22,7.2)(27.7,6.9)(32,7.3)(36,7.5)(40,7.3)(44,7.2)(47.6,7.3)};
\addplot[bd] coordinates {(0,5.4)(4,5.8)(8,5.7)(12,5.3)(15,5)(17.6,4.9)(22,5)(27.7,5.2)(33,5.4)(38,5.5)(42,4.9)(45,4.3)(47.6,4.1)};
\addplot[bd] coordinates {(0,1.1)(2,3.5)(4,6.5)(6,9.3)(8,11.8)(10,13.8)(12,15)(14.7,15.5)(17.6,15.5)};
\addplot[bd] coordinates {(0,17.6)(2,16.5)(4,14)(6,11.5)(8,10)(10,9.8)(12,10.2)(15,9.8)(17.6,10)};
\addplot[bd] coordinates {(0,0)(4,1.7)(8,3.3)(12,4.3)(17.6,4.8)(22,4.9)(27.7,5.1)(32,5)(36,4)(40,2.7)(44,1.3)(47.6,0)};
\addplot[bd] coordinates {(0,0)(4,1.5)(8,3)(12,4.1)(17.6,5)(22,5.9)(27.7,6.2)(32,5.3)(36,4.3)(40,3)(44,1.5)(47.6,0)};
\addplot[bd] coordinates {(0,0)(4,2.3)(8,4.5)(12,6.2)(17.6,7.5)(22,8.5)(27.7,9.8)(32,8.3)(36,6)(40,3.8)(44,1.8)(47.6,0)};
\addplot[bd] coordinates {(0,1.1)(3,3)(6,5.2)(9,7)(12,8.3)(17.6,9.6)(22,10.5)(27.7,11.2)(32,9.5)(36,7)(40,4.7)(44,2.5)(47.6,1.1)(50,0.9)(52.2,0.7)};
\addplot[bd] coordinates {(47.6,0)(50,2.2)(52.2,4.6)};
\addplot[bd] coordinates {(52.2,0.7)(55.4,2.1)(58,3.3)(60.8,4.2)(64,4.7)(69.4,5.1)(74,5.1)(79.6,5.1)(84,4.6)(88.1,4.1)(92,3)(96.3,1.9)(100,0.7)};
\addplot[bd] coordinates {(52.2,0.7)(55,1.7)(57.7,2.7)(60.8,3.7)(63.6,4.3)(69.4,4.8)(74,5.4)(79.6,6.2)(83,5.8)(86,5)(90,3.6)(96.3,1.9)(100,0.7)};
\addplot[bd] coordinates {(47.6,6)(50,5.2)(52.2,4.6)(56,5)(60,5.7)(63.6,6.4)(66,6.1)(69.4,5.9)(73,6.2)(76,6.6)(79.6,6.8)(83,6.5)(87,5.8)(91,5.1)(95,4.7)(100,4.6)};
\addplot[bd] coordinates {(47.6,4.1)(50,4.3)(52.2,4.6)(55,5.3)(58,6.2)(61,6.8)(64,6.8)(66,6.5)(69.4,6.9)(73,7.5)(76,8)(79.6,8.2)(83,8.2)(86,7.5)(90,6.3)(95,5.2)(100,4.6)};
\addplot[bd] coordinates {(47.6,7.3)(50,6.9)(52.2,6.6)(55,7.2)(58,8.3)(61,8.8)(64,8.8)(66,8.7)(69.4,8.8)(73,8.4)(76,8.1)(79.6,8.4)(83,8.6)(86,8.3)(90,7.5)(95,6.8)(100,6.5)};
\addplot[bd] coordinates {(47.6,9)(50,8.9)(52.2,8.9)(55,9.1)(58,9.3)(61,9.5)(64,9.7)(69.4,9.7)(72,10.3)(75,11.4)(79.6,11.7)(82,11.4)(85,10.8)(88,10)(92,9.2)(96,8.9)(100,8.9)};
\addplot[bd] coordinates {(47.6,8.9)(50,8.9)(52.2,8.9)(55.4,9.2)(57,9.5)(60.8,9.3)(63.6,10.2)(66.3,11)(69.4,11.9)(72,11.5)(74.5,11)(76.5,11)(77.7,11.7)(79.6,11.1)(81,11.7)(83,11.2)(86,10.5)(90,10.2)(93.6,9.7)(96.3,9.3)(100,8.9)};
\addplot[bd] coordinates {(47.6,12.1)(50,11.3)(52.2,10.4)(55.4,10.6)(57,10.9)(60.8,11)(63.6,12)(66.3,13)(69.4,13.5)(72,13.3)(74.5,12.8)(77.2,12.4)(79.6,12.6)(82.6,12.2)(85.4,11.6)(88.1,11.1)(90.8,10.9)(93.6,10.7)(96.3,10.4)(100,10.4)};
\node[anchor=west, font=\pl, inner sep=0pt] at (axis cs:0.65,18.5) {(d)};
\end{axis}
\begin{axis}[dosax, at={(476.0pt,-186.9pt)}, anchor=north west, ymin=-2.5, ymax=20]
\draw[zl] (axis cs:0,0) -- (axis cs:1,0);
\addplot[ds, mgO] coordinates {(0,-2.5)(0.003,0.5)(0.01,1.3)(0.03,2.9)(0.07,4.9)(0.11,5.7)(0.15,6.5)(0.19,7.2)(0.19,8.2)(0.25,9.2)(0.17,9.5)(0.23,10.6)(0.11,11.4)(0.03,12.4)(0.01,13.5)(0,15)};
\addlegendentry{Mg}
\addplot[ds, mnP] coordinates {(0,-2.5)(0.003,0.5)(0.01,1.3)(0.05,2.9)(0.13,4.1)(0.27,4.4)(0.42,4.7)(0.29,5.2)(0.19,5.9)(0.21,6.5)(0.11,7)(0.13,7.9)(0.17,8.5)(0.13,9.2)(0.03,10.3)(0.02,12.8)(0.01,16)(0.005,18)(0,20)};
\addlegendentry{Mn}
\addplot[ds, oR] coordinates {(0.003,-2.5)(0.004,0.5)(0.01,1.3)(0.02,2.9)(0.09,4.6)(0.11,5.4)(0.05,6)(0.2,6.5)(0.22,7.4)(0.31,8)(0.25,8.5)(0.3,9)(0.32,9.5)(0.33,10.3)(0.26,11.1)(0.31,12.1)(0.2,13.2)(0.15,14.4)(0.03,14.8)(0.28,15)(0.48,15.3)(0.23,15.5)(0.11,16.8)(0.05,18)(0.01,19.3)(0,20)};
\addlegendentry{O}
\end{axis}
\end{tikzpicture}
\end{document}
